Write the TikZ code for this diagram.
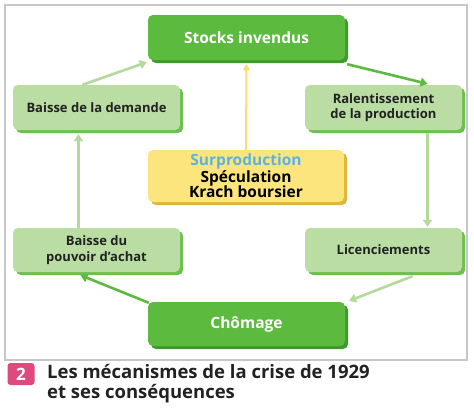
\documentclass[tikz,border=0pt]{standalone}
\usepackage{fontspec}
\setmainfont{Open Sans}
\usetikzlibrary{arrows.meta,shadows}
\definecolor{dgreen}{HTML}{5CBB3E}
\definecolor{dgshadow}{HTML}{3F9A2C}
\definecolor{lgreen}{HTML}{B9DDA2}
\definecolor{lgshadow}{HTML}{6DBF4E}
\definecolor{larrow}{HTML}{B3DA9C}
\definecolor{yfill}{HTML}{FBE57C}
\definecolor{yshadow}{HTML}{DDB63A}
\definecolor{yarrow}{HTML}{F3DE6E}
\definecolor{sblue}{HTML}{5AB2E6}
\definecolor{pinkbox}{HTML}{DE4A7E}
\definecolor{txt}{HTML}{222222}
\tikzset{
  darkbox/.style={rounded corners=5pt, fill=dgreen, text=white, font=\bfseries\fontsize{15.5}{17}\selectfont,
    drop shadow={shadow xshift=3pt, shadow yshift=-3pt, fill=dgshadow, opacity=1}, inner sep=0pt},
  lightbox/.style={rounded corners=5pt, fill=lgreen, text=txt, font=\bfseries\fontsize{13}{15.5}\selectfont, align=center,
    drop shadow={shadow xshift=3pt, shadow yshift=-3pt, fill=lgshadow, opacity=1}, inner sep=0pt},
  yellowbox/.style={rounded corners=5pt, fill=yfill, text=black, font=\bfseries\fontsize{15.5}{15.5}\selectfont, align=center,
    drop shadow={shadow xshift=3pt, shadow yshift=-3pt, fill=yshadow, opacity=1}, inner sep=0pt},
  larr/.style={draw=larrow, line width=2.6pt, -{Triangle[width=9pt,length=7pt]}},
  darr/.style={draw=dgreen, line width=2.6pt, -{Triangle[width=9pt,length=7pt]}},
  yarr/.style={draw=yarrow, line width=2pt, -{Triangle[width=7pt,length=6pt]}},
}
\begin{document}
\begin{tikzpicture}[x=1pt,y=-1pt]
\useasboundingbox (0,0) rectangle (474,410);
\fill[white] (0,0) rectangle (474,410);
\draw[black!22, line width=1.2pt] (5,5) rectangle (467,360);

\node[darkbox, minimum width=197pt, minimum height=45pt] (stocks) at (246.5,37.5) {Stocks invendus};
\node[lightbox, minimum width=167pt, minimum height=45pt] (demande) at (96.5,107.5) {Baisse de la demande};
\node[lightbox, minimum width=157pt, minimum height=45pt] (ralent) at (383.5,107.5) {Ralentissement\\de la production};
\node[yellowbox, minimum width=196pt, minimum height=52pt] (cause) at (246,176) {\textcolor{sblue}{Surproduction}\\Spéculation\\Krach boursier};
\node[lightbox, minimum width=167pt, minimum height=44pt] (pouvoir) at (96.5,250) {Baisse du\\pouvoir d'achat};
\node[lightbox, minimum width=157pt, minimum height=44pt] (licenc) at (383.5,250) {Licenciements};
\node[darkbox, minimum width=197pt, minimum height=44pt] (chomage) at (246.5,324) {Chômage};

\coordinate (d1) at ([xshift=-14pt]demande.north);
\coordinate (s1) at ([xshift=-1pt,yshift=-2pt]stocks.south west);
\coordinate (s2) at ([xshift=2pt,yshift=-4pt]stocks.south east);
\coordinate (r1) at ([xshift=44pt,yshift=1pt]ralent.north);
\coordinate (r2) at ([xshift=44pt,yshift=-3pt]ralent.south);
\coordinate (l1) at ([xshift=44pt,yshift=1pt]licenc.north);
\coordinate (l2) at ([xshift=29pt,yshift=-4pt]licenc.south);
\coordinate (c1) at ([xshift=4pt,yshift=1pt]chomage.north east);
\coordinate (c2) at ([xshift=1pt,yshift=-1pt]chomage.north west);
\coordinate (p1) at ([xshift=-16pt,yshift=-3pt]pouvoir.south);
\coordinate (p2) at ([xshift=-18pt]pouvoir.north);
\coordinate (d2) at ([xshift=-18pt,yshift=-4pt]demande.south);

\draw[larr] (d1) -- (s1);
\draw[darr] (s2) -- (r1);
\draw[larr] (r2) -- (l1);
\draw[larr] (l2) -- (c1);
\draw[darr] (c2) -- (p1);
\draw[larr] (p2) -- (d2);
\draw[yarr] (cause.north) -- ([yshift=-4pt]stocks.south);

\node[fill=pinkbox, rounded corners=3pt, minimum width=27pt, minimum height=22pt, inner sep=0pt,
  text=white, font=\bfseries\fontsize{17}{17}\selectfont] (num) at (21,374) {2};
\node[anchor=north west, align=left, text=txt, inner sep=0pt,
  font=\bfseries\fontsize{18.5}{20}\selectfont] (cap) at (47,364) {Les mécanismes de la crise de 1929\\et ses conséquences};
\end{tikzpicture}
\end{document}
